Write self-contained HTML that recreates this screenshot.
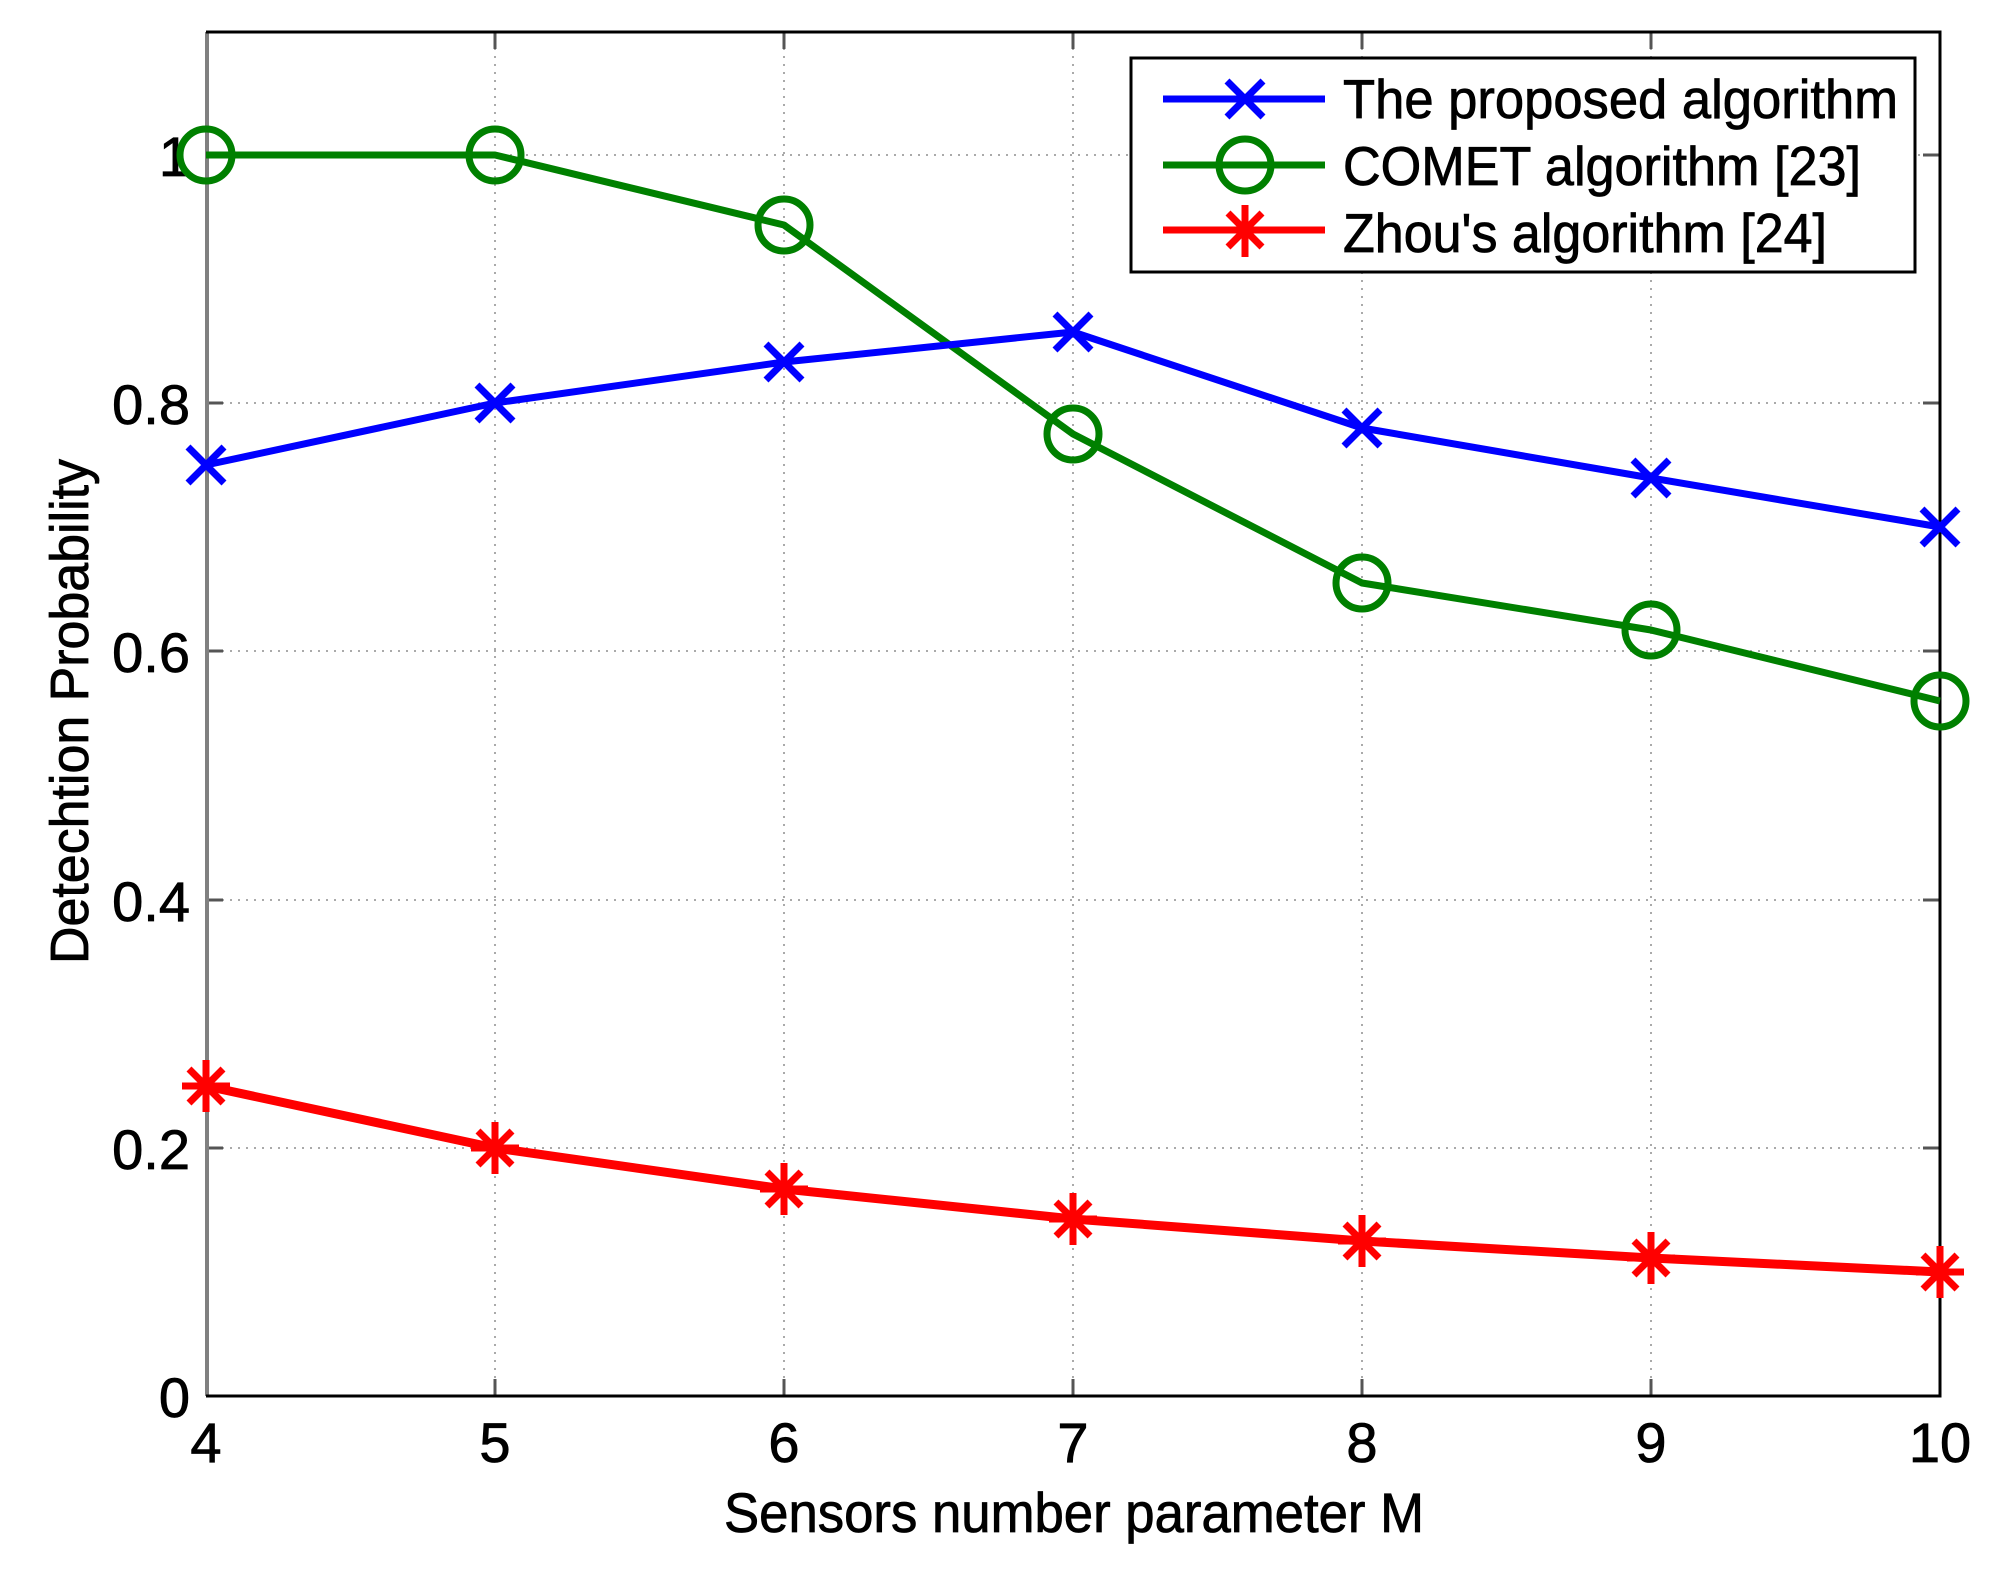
<!DOCTYPE html>
<html><head><meta charset="utf-8"><style>html,body{margin:0;padding:0;background:#fff}svg{display:block}</style></head>
<body>
<svg width="2004" height="1575" viewBox="0 0 2004 1575" xmlns="http://www.w3.org/2000/svg" font-family="Liberation Sans, Arial, sans-serif">
<rect width="2004" height="1575" fill="#fff"/>
<g stroke="#aaa" stroke-width="2" stroke-dasharray="2,6">
<line x1="495" y1="32" x2="495" y2="1396"/><line x1="784" y1="32" x2="784" y2="1396"/><line x1="1073" y1="32" x2="1073" y2="1396"/><line x1="1362" y1="32" x2="1362" y2="1396"/><line x1="1651" y1="32" x2="1651" y2="1396"/>
<line x1="206" y1="1148" x2="1940" y2="1148"/><line x1="206" y1="900" x2="1940" y2="900"/><line x1="206" y1="651" x2="1940" y2="651"/><line x1="206" y1="403" x2="1940" y2="403"/><line x1="206" y1="155" x2="1940" y2="155"/>
</g>
<g stroke="#555" stroke-width="3">
<path d="M495 1396v-17M784 1396v-17M1073 1396v-17M1362 1396v-17M1651 1396v-17M495 32v17M784 32v17M1073 32v17M1362 32v17M1651 32v17"/>
<path d="M206 1148h17M206 900h17M206 651h17M206 403h17M206 155h17M1940 1148h-17M1940 900h-17M1940 651h-17M1940 403h-17M1940 155h-17"/>
</g>
<line x1="207" y1="32" x2="207" y2="1396" stroke="#808080" stroke-width="4"/>
<path d="M206 1396H1940V32H206" fill="none" stroke="#000" stroke-width="3"/>
<g font-size="56" fill="#000" text-anchor="end" stroke="#000" stroke-width="0.8">
<text x="190" y="1417">0</text><text x="190" y="1169">0.2</text><text x="190" y="921">0.4</text><text x="190" y="672">0.6</text><text x="190" y="424">0.8</text><text x="190" y="176">1</text>
</g>
<g font-size="56" fill="#000" text-anchor="middle" stroke="#000" stroke-width="0.8">
<text x="206" y="1462">4</text><text x="495" y="1462">5</text><text x="784" y="1462">6</text><text x="1073" y="1462">7</text><text x="1362" y="1462">8</text><text x="1651" y="1462">9</text><text x="1940" y="1462">10</text>
</g>
<text x="724" y="1532" font-size="56" stroke="#000" stroke-width="0.8" textLength="700" lengthAdjust="spacingAndGlyphs">Sensors number parameter M</text>
<text transform="translate(88,964) rotate(-90)" font-size="54" stroke="#000" stroke-width="0.8" textLength="505" lengthAdjust="spacingAndGlyphs">Detechtion Probability</text>
<!-- red -->
<polyline fill="none" stroke="#f00" stroke-width="9" stroke-linejoin="round" points="206,1086 495,1148 784,1189 1073,1219 1362,1241 1651,1258 1940,1272"/>
<g stroke="#f00" stroke-width="7">
<path d="M206 1060v52M182 1086h48M189 1069l34 34M223 1069l-34 34"/>
<path d="M495 1122v52M471 1148h48M478 1131l34 34M512 1131l-34 34"/>
<path d="M784 1163v52M760 1189h48M767 1172l34 34M801 1172l-34 34"/>
<path d="M1073 1193v52M1049 1219h48M1056 1202l34 34M1090 1202l-34 34"/>
<path d="M1362 1215v52M1338 1241h48M1345 1224l34 34M1379 1224l-34 34"/>
<path d="M1651 1232v52M1627 1258h48M1634 1241l34 34M1668 1241l-34 34"/>
<path d="M1940 1246v52M1916 1272h48M1923 1255l34 34M1957 1255l-34 34"/>
</g>
<!-- green -->
<polyline fill="none" stroke="#008000" stroke-width="7" stroke-linejoin="round" points="206,155 495,155 784,225 1073,434 1362,583 1651,630 1940,701"/>
<g fill="none" stroke="#008000" stroke-width="7">
<circle cx="206" cy="155" r="26"/><circle cx="495" cy="155" r="26"/><circle cx="784" cy="225" r="26"/><circle cx="1073" cy="434" r="26"/><circle cx="1362" cy="583" r="26"/><circle cx="1651" cy="630" r="26"/><circle cx="1940" cy="701" r="26"/>
</g>
<!-- blue -->
<polyline fill="none" stroke="#00f" stroke-width="7" stroke-linejoin="round" points="206,465 495,403 784,362 1073,332 1362,428 1651,478 1940,527"/>
<g stroke="#00f" stroke-width="7">
<path d="M188 447l36 36M224 447l-36 36"/>
<path d="M477 385l36 36M513 385l-36 36"/>
<path d="M766 344l36 36M802 344l-36 36"/>
<path d="M1055 314l36 36M1091 314l-36 36"/>
<path d="M1344 410l36 36M1380 410l-36 36"/>
<path d="M1633 460l36 36M1669 460l-36 36"/>
<path d="M1922 509l36 36M1958 509l-36 36"/>
</g>
<!-- legend -->
<rect x="1131" y="58" width="784" height="214" fill="#fff" stroke="#000" stroke-width="3"/>
<line x1="1163" y1="99" x2="1325" y2="99" stroke="#00f" stroke-width="7"/>
<path d="M1227 81l36 36M1263 81l-36 36" stroke="#00f" stroke-width="7"/>
<line x1="1163" y1="165" x2="1325" y2="165" stroke="#008000" stroke-width="7"/>
<circle cx="1245" cy="165" r="26" fill="none" stroke="#008000" stroke-width="7"/>
<line x1="1163" y1="230" x2="1325" y2="230" stroke="#f00" stroke-width="7"/>
<path d="M1245 205v52M1221 230h48M1228 213l34 34M1262 213l-34 34" stroke="#f00" stroke-width="7"/>
<g font-size="55" fill="#000" stroke="#000" stroke-width="0.8">
<text x="1343" y="118" textLength="555" lengthAdjust="spacingAndGlyphs">The proposed algorithm</text>
<text x="1343" y="185" textLength="518" lengthAdjust="spacingAndGlyphs">COMET algorithm [23]</text>
<text x="1343" y="252" textLength="484" lengthAdjust="spacingAndGlyphs">Zhou's algorithm [24]</text>
</g>
</svg>
</body></html>
